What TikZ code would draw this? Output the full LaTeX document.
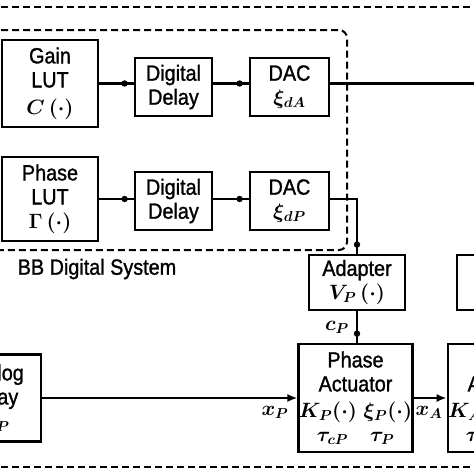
\documentclass[tikz,border=0pt]{standalone}
\usepackage{fontspec}
\setmainfont{Liberation Sans}[FakeStretch=0.9,FakeBold=1.2]
\usepackage{amsmath}
\usetikzlibrary{arrows.meta,decorations.markings,calc}
\begin{document}
\begin{tikzpicture}[x=1pt,y=-1pt,
  every node/.style={font=\fontsize{22}{24}\selectfont\boldmath},
  blk/.style={draw, line width=2.8pt, inner sep=0pt, align=center},
  conn/.style={line width=2.2pt},
  dotarr/.style={conn, postaction={decorate},
    decoration={markings, mark=at position -9pt with {\fill (0,0) circle (3.2pt);}}},
  tri/.style={conn, -{Latex[length=10pt,width=8pt]}},
  framedash/.style={line width=2pt, dash pattern=on 7pt off 4pt}
]
\useasboundingbox (0,0) rectangle (474,474);
\clip (0,0) rectangle (474,474);

% dashed frames
\draw[framedash] (-10,7) -- (484,7);
\draw[framedash] (-10,467) -- (484,467);
\draw[framedash, rounded corners=8pt] (-10,30) -- (347,30) -- (347,250) -- (-10,250);
\node (bblbl) at (97,269) {BB Digital System};

% blocks
\node[blk, minimum width=96pt, minimum height=87pt] (gain) at (50,83.5) {Gain\\LUT\\[3pt]$C\,(\cdot)$};
\node[blk, minimum width=96pt, minimum height=84pt] (plut) at (50,199) {Phase\\LUT\\$\Gamma\,(\cdot)$};
\node[blk, minimum width=77pt, minimum height=58pt] (del1) at (173.5,87) {Digital\\Delay};
\node[blk, minimum width=79pt, minimum height=58pt] (dac1) at (289.5,87) {DAC\\$\xi_{dA}$};
\node[blk, minimum width=77pt, minimum height=58pt] (del2) at (173.5,201) {Digital\\Delay};
\node[blk, minimum width=79pt, minimum height=58pt] (dac2) at (289.5,201) {DAC\\$\xi_{dP}$};
\node[blk, minimum width=96pt, minimum height=55pt] (adap) at (357,282.5) {Adapter\\$V_P\,(\cdot)$};
\node[blk, minimum width=111pt, minimum height=108pt] (pact) at (355.5,398)
  {Phase\\Actuator\\[2pt]$K_P(\cdot)\;\xi_P(\cdot)$\\$\tau_{cP}\hspace{22pt}\tau_P$};
\node[blk, minimum width=96pt, minimum height=87pt] (adel) at (-7,398) {Analog\\Delay\\$\tau_{aP}$};
\node[blk, minimum width=96pt, minimum height=55pt] (radap) at (505,282.5) {};
\node[blk, minimum width=111pt, minimum height=108pt] (aact) at (504.5,398)
  {Gain\\Actuator\\[2pt]$K_A(\cdot)\;\xi_A(\cdot)$\\$\tau_{cA}\hspace{22pt}\tau_A$};

% connectors
\coordinate (rend) at (484,83.5);
\draw[dotarr] (gain.east) -- (gain.east -| del1.west);
\draw[dotarr] (gain.east -| del1.east) -- (gain.east -| dac1.west);
\draw[conn] (gain.east -| dac1.east) -- (rend);
\draw[dotarr] (plut.east) -- (plut.east -| del2.west);
\draw[dotarr] (plut.east -| del2.east) -- (plut.east -| dac2.west);
\draw[dotarr] (plut.east -| dac2.east) -| (adap.north);
\draw[dotarr] (adap.south) -- (adap.south |- pact.north);
\draw[tri] (adel.east) -- (pact.west);
\draw[tri] (pact.east) -- (aact.west);

% labels
\node (xp) at (275,412) {$x_P$};
\node (cp) at (337,327) {$c_P$};
\node (xa) at (429,412) {$x_A$};
\end{tikzpicture}
\end{document}
